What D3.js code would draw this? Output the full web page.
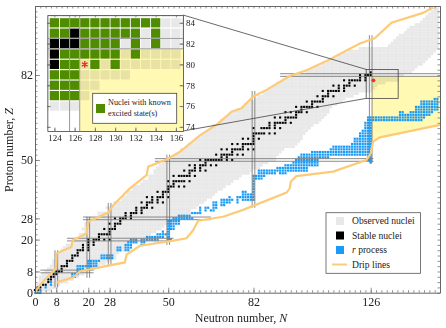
<!DOCTYPE html>
<html>
<head>
<meta charset="utf-8">
<script src="https://cdn.jsdelivr.net/npm/d3@7"></script>
<style>
    html, body { margin: 0; padding: 0; background: #fff; }
    svg { display: block; }
    text { font-family: "Liberation Serif", serif; fill: #222; }
    .axis path { stroke: #666; stroke-width: 1; }
    .axis line { stroke: #666; stroke-width: .7; }
    .axis text { font-family: "Liberation Serif", serif; fill: #222; }
</style>
</head>
<body>
<div id="chart"></div>
<script>
// observed nuclei, index 0 is Z = 1
const observedMin = [0,1,1,2,2,2,3,4,5,6,7,7,8,8,9,10,11,12,14,15,18,17,19,18,19,19,20,20,24,24,29,27,30,30,33,33,35,35,37,37,
    40,41,43,43,45,45,46,47,48,49,52,53,55,55,57,58,60,61,62,64,65,66,67,69,70,72,73,74,76,78,79,81,83,84,86,87,88,90,91,93,
    95,97,102,103,105,108,110,112,114,116,118,122,133,134,135,136,137,139,140,141,143,145,146,147,148,149,150];
const observedMax = [6,8,9,12,14,16,18,20,22,24,26,28,30,30,31,33,35,35,38,40,41,43,45,47,48,51,52,55,56,58,58,60,61,63,64,66,67,68,70,71,
    73,74,76,77,80,81,84,85,87,90,90,91,92,93,97,98,99,100,100,101,102,103,104,106,107,108,109,110,110,111,113,115,116,119,121,126,127,128,131,136,
    136,138,141,142,143,145,146,147,148,149,150,151,151,151,151,151,151,151,151,151,151,151,151,151,151,151,151];

// stable nuclei, one list of N per Z
const stableZ = [1,2,3,4,5,6,7,8,9,10,11,12,13,14,15,16,17,18,19,20,21,22,23,24,25,26,27,28,29,30,31,32,33,34,35,36,37,38,39,40,
    41,42,44,45,46,47,48,49,50,51,52,53,54,55,56,57,58,59,60,62,63,64,65,66,67,68,69,70,71,72,73,74,75,76,77,78,79,80,81,82,83];
const stableN = [[0,1],[1,2],[3,4],[5],[5,6],[6,7],[7,8],[8,9,10],[10],[10,11,12],[12],[12,13,14],[14],[14,15,16],[16],[16,17,18,20],[18,20],[18,20,22],[20,22],[20,22,23,24,26,28],
    [24],[24,25,26,27,28],[28],[26,28,29,30],[30],[28,30,31,32],[32],[30,32,33,34,36],[34,36],[34,36,37,38,40],[38,40],[38,40,41,42,44],[42],[40,42,43,44,46,48],[44,46],[42,44,46,47,48,50],[48],[46,48,49,50],[50],[50,51,52,54,56],
    [52],[50,52,53,54,55,56,58],[52,54,55,56,57,58,60],[58],[56,58,59,60,62,64],[60,62],[58,60,62,63,64,66,68],[64],[62,64,65,66,67,68,69,70,72,74],[70,72],[68,70,71,72,73,74,76,78],[74],[70,72,74,75,76,77,78,80,82],[78],[74,76,78,79,80,81,82],[82],[78,80,82,84],[82],[82,83,84,85,86,88,90],[82,85,86,87,88,90,92],[88,90],[88,90,91,92,93,94,96],[94],[90,92,94,95,96,97,98],[98],[94,96,98,99,100,102],[100],[98,100,101,102,103,104,106],[104],[102,104,105,106,107,108],[108],[106,108,109,110,112],[110],[108,110,111,112,113,114,116],[114,116],[112,114,116,117,118,120],[118],[116,118,119,120,121,122,124],[122,124],[122,124,125,126],[126]];

// r process path, runs of [first N, last N] per Z
const rProcessZ = [0,1,2,3,4,6,7,8,9,10,11,12,13,14,16,17,18,19,20,21,22,23,24,25,26,27,28,29,30,31,32,33,34,35,36,37,38,39,40,41,42,43,44,45,46,47,48,49,50,51,52,53,54,55,56,57,58,59,60,61,62,63,64,65,66,67,68,69,70,71,72,73];
const rProcessRuns = [[[0,2]],[[0,2]],[[4,4]],[[6,6]],[[6,6]],[[14,15]],[[14,16]],[[16,16]],[[16,18],[20,21]],[[16,18],[19,23]],[[20,23]],[[20,24]],[[25,29]],[[25,29]],
    [[31,32],[34,35]],[[31,32],[34,36]],[[34,36],[40,41]],[[35,38],[40,41]],[[36,38],[40,46],[50,51]],[[42,48],[50,50]],[[46,49],[50,50]],[[48,48],[50,50]],[[50,52]],[[50,52]],[[50,54]],[[50,54]],
    [[52,59]],[[54,55],[56,58]],[[59,62]],[[62,62],[64,64],[66,67]],[[62,62],[64,65],[67,68]],[[67,68],[70,71]],[[67,68],[70,72],[73,73],[76,76]],[[70,74],[76,76],[78,82]],[[73,73],[76,76],[77,82]],[[78,82]],[[78,79],[82,82]],
    [[82,82]],[[82,82]],[[82,82]],[[82,82]],[[82,85]],[[82,86]],[[84,90],[92,94]],[[84,102]],[[91,102]],[[94,106]],[[97,106],[126,126]],[[98,106],[125,126]],[[99,110],[125,126]],[[100,126]],[[104,126]],[[111,126]],[[112,126]],[[119,126]],[[120,126]],[[120,126]],[[122,126]],[[122,126]],[[123,126]],[[124,126]],[[124,126]],[[124,126]],
    [[125,145]],[[125,146]],[[137,148]],[[137,138],[141,149]],[[143,151]],[[143,151]],[[145,151]],[[145,151]],[[150,151]]];

// drip lines as [N, Z]
const protonDrip = [[0,0],[1.85,2.9],[7.85,9.1],[8.1,14.8],[13.7,17.3],[14.1,19.8],[19.4,22.3],[20,26.7],[27.5,30.2],[29.4,33],[35.6,39.3],[41.9,44.3],[42.5,47.5],[49.4,50.2],[54.4,53.1],
    [61.9,59.3],[68.7,63.7],[73.8,68.2],[77.5,69.5],[81.9,73.9],[86.9,76.4],[95.6,81.6],[101.9,83.8],[110,87.6],[121.9,93.9],[127.5,95.8],[133.8,101.7],[145.6,105.4],[149.4,107.4]];
const neutronDrip = [[8.1,3.9],[14.4,5.8],[16.9,8.1],[33.7,11.4],[34.4,14.4],[39.4,17.7],[51.9,19.6],[56.9,20.5],[59.4,23.6],[61.2,27.1],[70.6,28.6],[78.1,31.2],[94.4,37.7],[95.6,39.3],[96,41.8],[98.1,43.9],
    [111.9,45.6],[124.4,50],[126,52.5],[126.9,56.9],[129.4,58.5],[152,63.2]];

// shell closures and how far their guide lines run
const magicN = [8,20,28,50,82,126];
const magicNSpan = [[2,16],[5.6,28.6],[10,33.8],[18,52],[32,76],[49,97]];
const magicZ = [8,20,28,50,82];
const magicZSpan = [[2,22],[12,52],[18,66],[45,127],[92,152]];

// excited state nuclei in the inset
const excitedZ = [84,83,82,81,80,79,78,77];
const excitedN = [[124,125,126,127,128,129,130,131,132,133,134],[124,125,127,128,129,130,131,132,134],[127,128,129,130,132,134],[125,126,127,128,129,130,132],[125,126,128,130],[124,125,126],[124,125,126],[124,125,126]];
const newNucleus = [[127,80]];

const mainXTicks = [0,8,20,28,50,82,126];
const mainYTicks = [0,8,20,28,50,82];
const insetXTicks = [124,126,128,130,132,134,136];
const insetYTicks = [74,76,78,80,82,84];
const zoomBoxN = [124.3,136.3];
const zoomBoxZ = [73.2,84.1];
const legendLabels = ["Observed nuclei","Stable nuclei","process","Drip lines"];

const WIDTH = 446, HEIGHT = 328;
const GRAY = "#e8e8e8", YELLOW = "#fff9b4", BLUE = "#1a9bf7", ORANGE = "#fdcb78", GREEN = "#4f8c00", LINE = "#6e6e6e";

const svg = d3.select("#chart").append("svg")
    .attr("width", WIDTH)
    .attr("height", HEIGHT);

const x = d3.scaleLinear().domain([0,152]).range([35,440]);
const y = d3.scaleLinear().domain([0,108]).range([292.7,6]);

const observed = observedMin.flatMap((lo, i) => d3.range(lo, observedMax[i] + 1).map(n => [n, i + 1]));
const stable = stableZ.flatMap((z, i) => stableN[i].map(n => [n, z]));
const rProcess = rProcessZ.flatMap((z, i) => rProcessRuns[i].flatMap(r => d3.range(r[0], r[1] + 1).map(n => [n, z])));
const excited = excitedZ.flatMap((z, i) => excitedN[i].map(n => [n, z]));

function drawCells(g, data, xs, ys, size, color) {
    g.append("g").selectAll("rect")
        .data(data)
        .join("rect")
        .attr("x", d => xs(d[0]) - size / 2)
        .attr("y", d => ys(d[1]) - size / 2)
        .attr("width", size)
        .attr("height", size)
        .attr("fill", color);
}

// the unobserved neutron rich corner, closed along the lower drip line
function yellowPath(xs, ys) {
    const rim = neutronDrip.filter(d => d[0] >= 126.5);
    const pts = [[126.5,81.5],[152,81.5]].concat(rim.slice().reverse()).concat([[126.5,52.5]]);
    return d3.line().x(d => xs(d[0])).y(d => ys(d[1]))(pts) + "Z";
}

function drawAxes(g, xs, ys, opts) {
    const [x0, x1] = xs.range();
    const [y0, y1] = ys.range();
    const place = (a, tx, ty, minor, major, labels) => {
        g.append("g").attr("class", "axis").attr("transform", `translate(${tx},${ty})`)
            .call(a.tickValues(minor).tickSize(-opts.minorLen).tickFormat("").tickSizeOuter(0));
        const m = g.append("g").attr("class", "axis").attr("transform", `translate(${tx},${ty})`)
            .call(a.tickValues(major).tickSize(-opts.majorLen).tickFormat(labels ? d3.format("d") : "").tickSizeOuter(0))
            .call(s => s.select(".domain").remove());
        m.selectAll("text").attr("font-size", opts.font).attr("font-family", "Liberation Serif");
        return m;
    };
    const b = place(d3.axisBottom(xs), 0, y0, opts.minorX, opts.majorX, true);
    b.selectAll("text").attr("y", opts.labelGapX);
    g.append("g").attr("class", "axis").attr("transform", `translate(0,${y1})`)
        .call(d3.axisTop(xs).tickValues(opts.minorX).tickSize(-opts.minorLen).tickFormat("").tickSizeOuter(0));
    const l = place(d3.axisLeft(ys), x0, 0, opts.minorY, opts.majorY, opts.side === "main");
    l.selectAll("text").attr("x", -2);
    g.append("g").attr("class", "axis").attr("transform", `translate(${x1},0)`)
        .call(d3.axisRight(ys).tickValues(opts.minorY).tickSize(-opts.minorLen).tickFormat("").tickSizeOuter(0));
    if (opts.side === "inset") {
        g.append("g").attr("class", "axis").attr("transform", `translate(${x1},0)`)
            .call(d3.axisRight(ys).tickValues(opts.majorY).tickSize(-opts.majorLen).tickFormat(d3.format("d")).tickPadding(3).tickSizeOuter(0))
            .call(s => s.select(".domain").remove())
            .selectAll("text").attr("font-size", opts.font);
    }
}

// main chart
const main = svg.append("g");
drawCells(main, observed.filter(d => d[0] < 152 && d[1] < 108), x, y, 2.8, GRAY);
main.append("path").attr("d", yellowPath(x, y)).attr("fill", YELLOW).style("mix-blend-mode", "multiply");
drawCells(main, rProcess, x, y, 2.2, BLUE);
drawCells(main, stable, x, y, 2.1, "#000");

const guides = main.append("g").attr("stroke", LINE).attr("stroke-width", .8).attr("fill", "none");
magicN.forEach((n, i) => {
    [-.5,.5].forEach(o => guides.append("line")
        .attr("x1", x(n + o)).attr("x2", x(n + o))
        .attr("y1", y(magicNSpan[i][0])).attr("y2", y(magicNSpan[i][1])));
});
magicZ.forEach((z, i) => {
    [-.5,.5].forEach(o => guides.append("line")
        .attr("y1", y(z + o)).attr("y2", y(z + o))
        .attr("x1", x(magicZSpan[i][0])).attr("x2", x(magicZSpan[i][1])));
});

const dripLine = d3.line().x(d => x(d[0])).y(d => y(d[1]));
[protonDrip, neutronDrip].forEach(d => main.append("path")
    .attr("d", dripLine(d))
    .attr("fill", "none")
    .attr("stroke", ORANGE)
    .attr("stroke-width", 2.2));

main.append("path")
    .attr("transform", `translate(${x(newNucleus[0][0])},${y(newNucleus[0][1])})`)
    .attr("d", d3.symbol(d3.symbolCircle, 12))
    .attr("fill", "#f03020");

main.append("rect")
    .attr("x", x(zoomBoxN[0])).attr("y", y(zoomBoxZ[1]))
    .attr("width", x(zoomBoxN[1]) - x(zoomBoxN[0]))
    .attr("height", y(zoomBoxZ[0]) - y(zoomBoxZ[1]))
    .attr("fill", "none").attr("stroke", "#444").attr("stroke-width", .8);

drawAxes(main, x, y, {
    side: "main", font: 12, labelGapX: 5, minorLen: 2.5, majorLen: 5,
    majorX: mainXTicks, majorY: mainYTicks,
    minorX: d3.range(0, 153, 2), minorY: d3.range(0, 109, 2)
});

main.append("text").attr("x", 241).attr("y", 322).attr("text-anchor", "middle").attr("font-size", 12)
    .html('Neutron number, <tspan font-style="italic">N</tspan>');
main.append("text").attr("transform", "translate(12.5,150) rotate(-90)").attr("text-anchor", "middle").attr("font-size", 12)
    .html('Proton number, <tspan font-style="italic">Z</tspan>');

// inset
const ix = d3.scaleLinear().domain([123.3,136.7]).range([47.3,183]);
const iy = d3.scaleLinear().domain([73.6,84.75]).range([131,15]);

svg.append("defs").append("clipPath").attr("id", "inset-clip")
    .append("rect").attr("x", 47.3).attr("y", 15).attr("width", 135.7).attr("height", 116);

[[x(zoomBoxN[0]), y(zoomBoxZ[1]), 183, 15], [x(zoomBoxN[0]), y(zoomBoxZ[0]), 183, 131]].forEach(c => svg.append("line")
    .attr("x1", c[0]).attr("y1", c[1]).attr("x2", c[2]).attr("y2", c[3])
    .attr("stroke", "#444").attr("stroke-width", .8));

const inset = svg.append("g");
inset.append("rect").attr("x", 47.3).attr("y", 15).attr("width", 135.7).attr("height", 116).attr("fill", "#fff");
const insetBody = inset.append("g").attr("clip-path", "url(#inset-clip)").style("isolation", "isolate");
const cellSize = 9.2;
drawCells(insetBody, observed.filter(d => d[0] >= 123 && d[1] >= 73), ix, iy, cellSize, GRAY);
insetBody.append("path").attr("d", yellowPath(ix, iy)).attr("fill", YELLOW).style("mix-blend-mode", "multiply");
drawCells(insetBody, excited, ix, iy, cellSize, GREEN);
drawCells(insetBody, stable.filter(d => d[0] >= 123 && d[1] >= 73), ix, iy, cellSize, "#000");

const insetGuides = insetBody.append("g").attr("stroke", "#999").attr("stroke-width", 1);
[125.5,126.5].forEach(n => insetGuides.append("line").attr("x1", ix(n)).attr("x2", ix(n)).attr("y1", 15).attr("y2", 131));
[81.5,82.5].forEach(z => insetGuides.append("line").attr("y1", iy(z)).attr("y2", iy(z)).attr("x1", 47.3).attr("x2", 183));

insetBody.append("path")
    .attr("transform", `translate(${ix(newNucleus[0][0])},${iy(newNucleus[0][1])})`)
    .attr("d", d3.symbol(d3.symbolAsterisk, 30))
    .attr("fill", "none").attr("stroke", "#f02a1a").attr("stroke-width", 1.3);

drawAxes(inset, ix, iy, {
    side: "inset", font: 9, labelGapX: 4, minorLen: 2.5, majorLen: 3.5,
    majorX: insetXTicks, majorY: insetYTicks,
    minorX: insetXTicks, minorY: insetYTicks
});

const insetLegend = inset.append("g");
insetLegend.append("rect").attr("x", 92.7).attr("y", 93.3).attr("width", 84).attr("height", 30)
    .attr("fill", "#fff").attr("stroke", "#444").attr("stroke-width", .8);
insetLegend.append("rect").attr("x", 96).attr("y", 104).attr("width", 9).attr("height", 9).attr("fill", GREEN);
insetLegend.append("text").attr("x", 108).attr("y", 105).attr("font-size", 8.2).text("Nuclei with known");
insetLegend.append("text").attr("x", 108).attr("y", 116).attr("font-size", 8.2).text("excited state(s)");

// legend
const legend = svg.append("g");
legend.append("rect").attr("x", 326).attr("y", 212.7).attr("width", 94.5).attr("height", 60.6)
    .attr("fill", "#fff").attr("stroke", "#555").attr("stroke-width", .8);
const rowY = d3.scalePoint().domain(legendLabels).range([221,264.5]);
legend.append("rect").attr("x", 336).attr("y", rowY(legendLabels[0]) - 4).attr("width", 8).attr("height", 8).attr("fill", GRAY);
legend.append("rect").attr("x", 336).attr("y", rowY(legendLabels[1]) - 4).attr("width", 8).attr("height", 8).attr("fill", "#000");
legend.append("rect").attr("x", 336).attr("y", rowY(legendLabels[2]) - 4).attr("width", 8).attr("height", 8).attr("fill", BLUE);
legend.append("line").attr("x1", 332).attr("x2", 347).attr("y1", rowY(legendLabels[3])).attr("y2", rowY(legendLabels[3]))
    .attr("stroke", ORANGE).attr("stroke-width", 2);
legendLabels.forEach(d => {
    const t = legend.append("text").attr("x", 352).attr("y", rowY(d) + 3).attr("font-size", 9.6);
    if (d === "process") {
        t.html('<tspan font-style="italic">r</tspan> process');
    } else {
        t.text(d);
    }
});
</script>
</body>
</html>
